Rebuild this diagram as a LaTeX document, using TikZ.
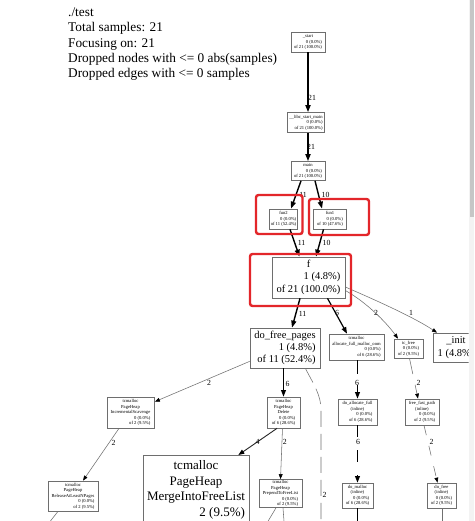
\documentclass[tikz,border=0pt]{standalone}
\usepackage{fontspec}
\setmainfont{Liberation Serif}
\usetikzlibrary{arrows.meta,calc}
\definecolor{boxgray}{HTML}{6E6E6E}
\definecolor{edgegray}{HTML}{707070}
\definecolor{redmark}{HTML}{E3262A}
\definecolor{trackc}{HTML}{F3F3F3}
\definecolor{thumbc}{HTML}{C6C6C6}
\newcommand\tinyf{\fontsize{4.6}{5.5}\selectfont}
\newcommand\midf{\fontsize{10.5}{12.3}\selectfont}
\newcommand\bigf{\fontsize{13}{15.5}\selectfont}
\newcommand\headf{\fontsize{13.3}{15.2}\selectfont}
\newcommand\labf{\fontsize{7.8}{8}\selectfont}
\newcommand\Cl[1]{\multicolumn{1}{@{}c@{}}{#1}}
\newcommand\Lines[1]{\begin{tabular}{@{}r@{}}#1\end{tabular}}
\tikzset{
  pnode/.style={draw=boxgray, line width=0.7pt, rectangle, inner sep=0pt, align=center, text=black},
  smallbox/.style={pnode, font=\tinyf},
  midbox/.style={pnode, font=\midf},
  bigbox/.style={pnode, font=\bigf},
  headline/.style={font=\headf, anchor=base west, inner sep=0pt},
  elab/.style={font=\labf, inner sep=0pt, text=black},
  eheavy/.style={line width=1.6pt, black, -{Triangle[length=7pt,width=5pt]}},
  ebig/.style={line width=1.4pt, black, -{Triangle[length=7pt,width=5pt]}},
  emid/.style={line width=1.2pt, black, -{Triangle[length=6.5pt,width=4.8pt]}},
  efour/.style={line width=0.9pt, black!85, -{Triangle[length=6pt,width=4.5pt,color=black]}},
  ethin/.style={line width=0.55pt, edgegray, -{Triangle[length=5pt,width=3.8pt,color=black]}},
  eplain/.style={line width=0.55pt, edgegray},
  redbox/.style={draw=redmark, line width=2.4pt, rounded corners=2.5pt},
}
\begin{document}
\begin{tikzpicture}[x=1pt, y=-1pt]
\useasboundingbox (0,0) rectangle (474,521);
\fill[white] (0,0) rectangle (474,521);
\begin{scope}
\clip (0,0) rectangle (468.5,521);
% header
\node[headline] (h1) at (68,16.5) {./test};
\node[headline] (h2) at (68,32) {Total samples: 21};
\node[headline] (h3) at (68,47.3) {Focusing on: 21};
\node[headline] (h4) at (68,62.6) {Dropped nodes with <= 0 abs(samples)};
\node[headline] (h5) at (68,77.8) {Dropped edges with <= 0 samples};

% nodes
\node[smallbox, minimum width=34pt, minimum height=20pt] (start) at (308,42)
  {\Lines{\Cl{\_start}\\0 (0.0\%)\\of 21 (100.0\%)}};
\node[smallbox, minimum width=37pt, minimum height=20pt] (libc) at (306,122.5)
  {\Lines{\Cl{\_\_libc\_start\_main}\\0 (0.0\%)\\of 21 (100.0\%)}};
\node[smallbox, minimum width=34pt, minimum height=19pt] (main) at (308,171)
  {\Lines{\Cl{main}\\0 (0.0\%)\\of 21 (100.0\%)}};
\node[smallbox, minimum width=28pt, minimum height=20pt] (fun2) at (283.5,219)
  {\Lines{\Cl{fun2}\\0 (0.0\%)\\of 11 (52.4\%)}};
\node[smallbox, minimum width=33pt, minimum height=20pt] (fun1) at (330,219)
  {\Lines{\Cl{fun1}\\0 (0.0\%)\\of 10 (47.6\%)}};
\node[midbox, minimum width=73pt, minimum height=41pt] (f) at (308.5,277.5)
  {\Lines{\Cl{f}\\1 (4.8\%)\\of 21 (100.0\%)}};
\node[midbox, minimum width=70pt, minimum height=40pt] (dfp) at (285,348)
  {\Lines{\Cl{do\_free\_pages}\\1 (4.8\%)\\of 11 (52.4\%)}};
\node[smallbox, minimum width=55pt, minimum height=26pt] (alloc) at (356.5,347)
  {\Lines{\Cl{tcmalloc}\\\Cl{allocate\_full\_malloc\_oom}\\0 (0.0\%)\\of 6 (28.6\%)}};
\node[smallbox, minimum width=29pt, minimum height=19pt] (tcfree) at (408.5,348.5)
  {\Lines{\Cl{tc\_free}\\0 (0.0\%)\\of 2 (9.5\%)}};
\node[midbox, minimum width=46pt, minimum height=29pt] (init) at (456,347.5)
  {\Lines{\Cl{\_init}\\1 (4.8\%)}};
\node[smallbox, minimum width=47pt, minimum height=31pt] (is) at (130.5,412.5)
  {\Lines{\Cl{tcmalloc}\\\Cl{PageHeap}\\\Cl{IncrementalScavenge}\\0 (0.0\%)\\of 2 (9.5\%)}};
\node[smallbox, minimum width=33pt, minimum height=31pt] (delete) at (283.5,412.5)
  {\Lines{\Cl{tcmalloc}\\\Cl{PageHeap}\\\Cl{Delete}\\0 (0.0\%)\\of 6 (28.6\%)}};
\node[bigbox, minimum width=106pt, inner ysep=3.5pt, anchor=north] (merge) at (196,455)
  {\Lines{\Cl{tcmalloc}\\\Cl{PageHeap}\\\Cl{MergeIntoFreeList}\\2 (9.5\%)\\\mbox{}}};
\node[smallbox, minimum width=43pt, minimum height=28pt] (prepend) at (280.5,493.5)
  {\Lines{\Cl{tcmalloc}\\\Cl{PageHeap}\\\Cl{PrependToFreeList}\\0 (0.0\%)\\of 2 (9.5\%)}};
\node[smallbox, minimum width=50pt, minimum height=30pt] (release) at (73,496)
  {\Lines{\Cl{tcmalloc}\\\Cl{PageHeap}\\\Cl{ReleaseAtLeastNPages}\\0 (0.0\%)\\of 2 (9.5\%)}};
\node[smallbox, minimum width=39pt, minimum height=26pt] (doaf) at (357.5,412)
  {\Lines{\Cl{do\_allocate\_full}\\\Cl{(inline)}\\0 (0.0\%)\\of 6 (28.6\%)}};
\node[smallbox, minimum width=31pt, minimum height=25pt] (domalloc) at (357.5,495.5)
  {\Lines{\Cl{do\_malloc}\\\Cl{(inline)}\\0 (0.0\%)\\of 6 (28.6\%)}};
\node[smallbox, minimum width=34pt, minimum height=26pt] (ffp) at (422,412)
  {\Lines{\Cl{free\_fast\_path}\\\Cl{(inline)}\\0 (0.0\%)\\of 2 (9.5\%)}};
\node[smallbox, minimum width=29pt, minimum height=25pt] (dofree) at (441.5,495.5)
  {\Lines{\Cl{do\_free}\\\Cl{(inline)}\\0 (0.0\%)\\of 2 (9.5\%)}};

% free ends below the frame
\coordinate (dfpout) at (321,530);
\coordinate (relout) at (45,528);
\coordinate (prepoutA) at (264,528);
\coordinate (prepoutB) at (284.5,528);
\coordinate (mallocout) at (357.5,530);
\coordinate (freeout) at (442,530);

% edges
\draw[eheavy] (start.south) -- (start.south |- libc.north)
  node[elab] at (312,98) {21};
\draw[eheavy] (main.north |- libc.south) -- (main.north)
  node[elab] at (311,146.5) {21};
\draw[ebig] ($(main.south)+(-7,0)$) -- ($(fun2.north)+(7.5,0)$)
  node[elab] at (303,195) {11};
\draw[ebig] ($(main.south)+(7,0)$) -- ($(fun1.north)+(-8,0)$)
  node[elab] at (325.5,195) {10};
\draw[ebig] ($(fun2.south)+(6.5,0)$) -- ($(f.north)+(-9,0)$)
  node[elab] at (301.5,243) {11};
\draw[ebig] ($(fun1.south)+(-6.5,0)$) -- ($(f.north)+(7.5,0)$)
  node[elab] at (326.5,243) {10};
\draw[ebig] ($(f.south)+(-8.5,0)$) -- ($(dfp.north)+(7,0)$)
  node[elab] at (302.5,314) {11};
\draw[emid] ($(f.south)+(19,0)$) -- ($(alloc.north)+(-9.5,0)$)
  node[elab] at (337,313) {6};
\draw[ethin] ($(f.east)+(0,13)$) .. controls (366,302) and (386,322) .. ($(tcfree.north)+(-10.5,0)$)
  node[elab] at (376,312.5) {2};
\draw[ethin] ($(f.east)+(0,9.5)$) .. controls (380,302) and (415,318) .. ($(init.north)+(-19,0)$)
  node[elab] at (411,313) {1};
\draw[ethin] ($(dfp.south west)+(0,-7)$) -- ($(is.north east)+(0.5,5)$)
  node[elab] at (209,383) {2};
\draw[emid] (delete.north |- dfp.south) -- (delete.north)
  node[elab] at (287.5,383.5) {6};
\draw[eplain, dash pattern=on 16pt off 7pt] ($(dfp.south east)+(-15,0)$) .. controls (314,385) and (321,395) .. (321,410) -- (dfpout)
  node[elab] at (324.5,495) {2};
\draw[ethin] ($(is.south)+(-11.5,0)$) -- ($(release.north)+(10,0)$)
  node[elab] at (113.5,442.5) {2};
\draw[efour] ($(delete.south)+(-6.5,0)$) -- ($(merge.north east)+(-11,0)$)
  node[elab] at (257.5,442) {4};
\draw[ethin] ($(delete.south)+(-1,0)$) -- (prepend.north)
  node[elab] at (284.8,442) {2};
\draw[eplain] ($(prepend.south)+(-4.5,0)$) -- (prepoutA);
\draw[eplain] ($(prepend.south)+(2.5,0)$) -- (prepoutB);
\draw[eplain] ($(release.south)+(-15,0)$) -- (relout);
\draw[emid, dash pattern=on 14pt off 11pt] (doaf.north |- alloc.south) -- (doaf.north)
  node[elab] at (357,383) {6};
\draw[emid, dash pattern=on 12pt off 13pt] (doaf.south) -- (domalloc.north)
  node[elab] at (358,442) {6};
\draw[line width=1.2pt, black] (domalloc.south) -- (mallocout);
\draw[ethin, dash pattern=on 16pt off 11pt] ($(tcfree.south)+(1,0)$) -- ($(ffp.north)+(-4,0)$)
  node[elab] at (418.5,383) {2};
\draw[ethin, dash pattern=on 10pt off 11pt] ($(ffp.south)+(2,0)$) -- ($(dofree.north)+(-4,0)$)
  node[elab] at (431.5,442) {2};
\draw[eplain] ($(dofree.south)+(0.5,0)$) -- (freeout);

% red highlight marks
\draw[redbox] (256,195) rectangle (302.5,234);
\draw[redbox] (309,199) rectangle (369,235);
\draw[redbox] (250,254) rectangle (351,306);
\end{scope}
% scrollbar strip
\fill[trackc] (468.5,0) rectangle (474,521);
\fill[thumbc] (469.8,0) rectangle (474,217);
\end{tikzpicture}
\end{document}
